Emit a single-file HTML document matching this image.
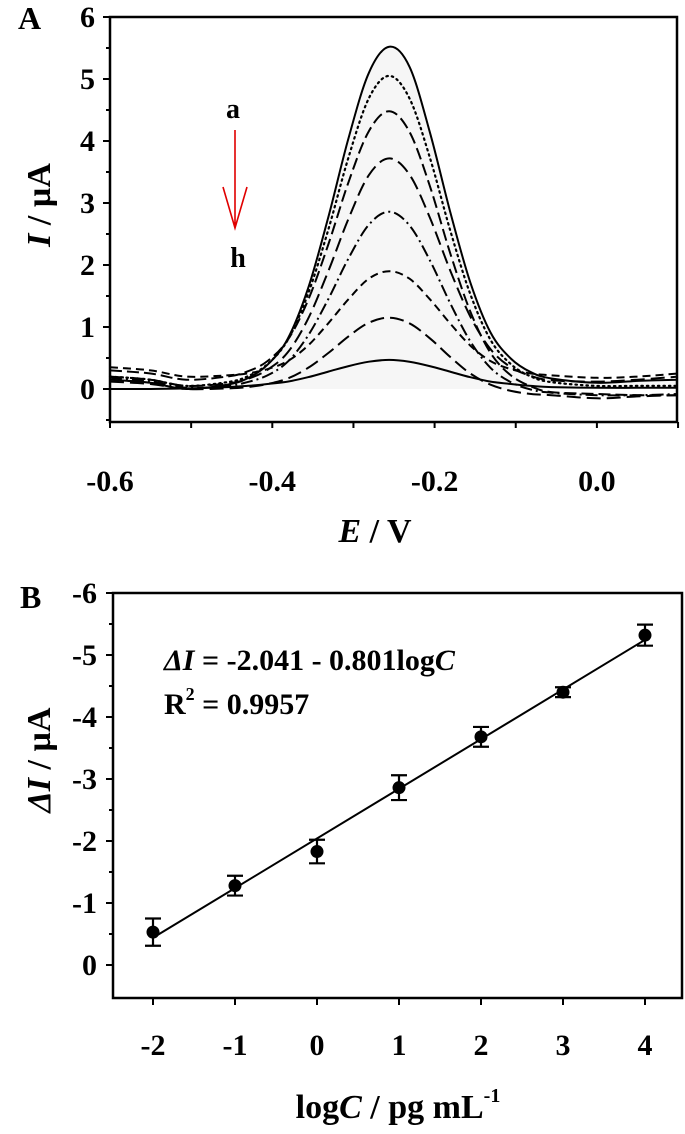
<!DOCTYPE html>
<html><head><meta charset="utf-8"><style>
html,body{margin:0;padding:0;background:#fff;}
svg{display:block;font-family:"Liberation Serif","DejaVu Serif",serif;font-weight:bold;}
</style></head><body>
<svg id="fig" width="685" height="1134" viewBox="0 0 685 1134" xmlns="http://www.w3.org/2000/svg">
<g id="pa"></g>
<g id="pb"></g>
</svg>
<script>
// ---------- Panel A data ----------
const aE = [-0.6,-0.55,-0.506,-0.456,-0.431,-0.406,-0.381,-0.356,-0.331,-0.306,-0.281,-0.256,-0.231,-0.206,-0.181,-0.156,-0.131,-0.106,-0.081,-0.056,0,0.05,0.1];
const curveA = [0.15,0.1,0.0, 0.07,0.17,0.39,0.81,1.62,2.77,4.05,5.10, 5.52, 5.20,4.15,2.87,1.72,0.91,0.49,0.27,0.17, 0.1,0.13,0.15];
const curveB = [0.2,0.15,0.05, 0.11,0.2,0.4,0.79,1.53,2.57,3.74,4.69, 5.05, 4.69,3.74,2.57,1.53,0.79,0.4,0.2,0.11, 0.05,0.05,0.05];
const curveC = [0.3,0.25,0.15, 0.2,0.28,0.45,0.79,1.43,2.33,3.34,4.16, 4.48, 4.15,3.28,2.2,1.25,0.58,0.22,0.04,-0.05, -0.08,-0.1,-0.1];
const curveD = [0.2,0.15,0.05, 0.09,0.16,0.31,0.59,1.13,1.90,2.75,3.45, 3.72, 3.46,2.77,1.92,1.17,0.64,0.35,0.21,0.14, 0.12,0.15,0.2];
const curveE = [0.18,0.12,0.02, 0.05,0.11,0.22,0.44,0.86,1.45,2.11,2.65, 2.86, 2.64,2.08,1.39,0.77,0.34,0.11,-0.01,-0.06, -0.1,-0.1,-0.08];
const curveF = [0.35,0.3,0.2, 0.22,0.25,0.32,0.45,0.70,1.06,1.45,1.78, 1.9, 1.78,1.45,1.06,0.70,0.45,0.32,0.25,0.22, 0.18,0.2,0.25];
const curveG = [0.12,0.08,0.0, 0.01,0.03,0.08,0.17,0.34,0.58,0.85,1.07, 1.15, 1.06,0.82,0.52,0.25,0.07,-0.03,-0.08,-0.1, -0.15,-0.12,-0.1];
const curveH = [0.0,0.0,0.01, 0.03,0.05,0.08,0.12,0.19,0.28,0.37,0.44, 0.47, 0.44,0.37,0.28,0.19,0.12,0.08,0.05,0.03, 0.02,0.02,0.02];
const aXTicks = [-0.6,-0.4,-0.2,0.0];
const aXTickLabels = ["-0.6","-0.4","-0.2","0.0"];
const aYTicks = [0,1,2,3,4,5,6];
// ---------- Panel B data ----------
const bX = [-2,-1,0,1,2,3,4];
const bY = [-0.53,-1.28,-1.83,-2.86,-3.68,-4.40,-5.32];
const bErr = [0.22,0.16,0.19,0.2,0.16,0.08,0.17];
const bIntercept = -2.041, bSlope = -0.801;
const bYTicks = [0,-1,-2,-3,-4,-5,-6];
const bXTicks = [-2,-1,0,1,2,3,4];

const NS="http://www.w3.org/2000/svg";
function mk(parent,tag,attrs,text){const e=document.createElementNS(NS,tag);for(const k in attrs)e.setAttribute(k,attrs[k]);if(text!==undefined)e.textContent=text;parent.appendChild(e);return e;}
function smooth(pts){let d="M"+pts[0][0].toFixed(1)+","+pts[0][1].toFixed(1);for(let i=0;i<pts.length-1;i++){const p0=pts[Math.max(0,i-1)],p1=pts[i],p2=pts[i+1],p3=pts[Math.min(pts.length-1,i+2)];const c1x=p1[0]+(p2[0]-p0[0])/6,c1y=p1[1]+(p2[1]-p0[1])/6,c2x=p2[0]-(p3[0]-p1[0])/6,c2y=p2[1]-(p3[1]-p1[1])/6;d+="C"+c1x.toFixed(1)+","+c1y.toFixed(1)+" "+c2x.toFixed(1)+","+c2y.toFixed(1)+" "+p2[0].toFixed(1)+","+p2[1].toFixed(1);}return d;}

// ---------- Panel A ----------
const pa=document.getElementById('pa');
const ax=v=>110+(v+0.6)*811.5;
const ay=v=>389-v*62;
const curves=[curveA,curveB,curveC,curveD,curveE,curveF,curveG,curveH];
const dashes=["","1.5,4","12,5","14,6","12,4,2,4","8,5","14,6",""];
const names=["curve-a","curve-b","curve-c","curve-d","curve-e","curve-f","curve-g","curve-h"];
// faint fill
const fillPts=aE.map((e,i)=>[ax(e),ay(curveA[i])]);
const fp=mk(pa,'path',{d:smooth(fillPts)+"L"+ax(0.1)+","+ay(0)+"L"+ax(-0.6)+","+ay(0)+"Z",fill:"#f6f6f6",stroke:"none"});


curves.forEach((c,k)=>{
  const pts=aE.map((e,i)=>[ax(e),ay(c[i])]);
  const p=mk(pa,'path',{d:smooth(pts),fill:"none",stroke:"#000","stroke-width":(k==1?2.2:2),"stroke-dasharray":dashes[k],"stroke-linecap":(k==1?"round":"butt")});
  
  
});
const fa=mk(pa,'rect',{x:110,y:17,width:567,height:405,fill:"none",stroke:"#000","stroke-width":2.5});


aYTicks.forEach(v=>{
  const t=mk(pa,'line',{x1:103,x2:110,y1:ay(v),y2:ay(v),stroke:"#000","stroke-width":2});
  
  
  const l=mk(pa,'text',{x:95,y:ay(v)+10,"font-size":30,"text-anchor":"end"},String(v));
  
  
});
[-0.5,0.5,1.5,2.5,3.5,4.5,5.5].forEach(v=>{
  const t=mk(pa,'line',{x1:106,x2:110,y1:ay(v),y2:ay(v),stroke:"#000","stroke-width":2});
  
  
});
[-0.6,-0.5,-0.4,-0.3,-0.2,-0.1,0.0,0.1].forEach(v=>{
  const t=mk(pa,'line',{x1:ax(v),x2:ax(v),y1:422,y2:428,stroke:"#000","stroke-width":2});
  
  
});
aXTicks.forEach((v,i)=>{
  const l=mk(pa,'text',{x:ax(v),y:491,"font-size":30,"text-anchor":"middle"},aXTickLabels[i]);
  
  
});
const xt=mk(pa,'text',{x:375,y:542,"font-size":34,"text-anchor":"middle"});


xt.innerHTML='<tspan font-style="italic">E</tspan> / V';
const yt=mk(pa,'text',{x:0,y:0,"font-size":34,"text-anchor":"middle",transform:"translate(50,205) rotate(-90)"});


yt.innerHTML='<tspan font-style="italic">I</tspan> / µA';
const lA=mk(pa,'text',{x:18,y:29,"font-size":32},"A");


const la=mk(pa,'text',{x:233,y:118,"font-size":28,"text-anchor":"middle"},"a");


const lh=mk(pa,'text',{x:238,y:267,"font-size":28,"text-anchor":"middle"},"h");


const arr=mk(pa,'path',{d:"M235,130 L235,228 M223,187 L235,228 L247,187",fill:"none",stroke:"#e00000","stroke-width":1.6});



// ---------- Panel B ----------
const pb=document.getElementById('pb');
const bx=v=>153+(v+2)*82;
const by=v=>965+v*62;
const fb=mk(pb,'rect',{x:113,y:593,width:569,height:405,fill:"none",stroke:"#000","stroke-width":2.5});


bYTicks.forEach(v=>{
  const t=mk(pb,'line',{x1:106,x2:113,y1:by(v),y2:by(v),stroke:"#000","stroke-width":2});
  
  
  const l=mk(pb,'text',{x:97,y:by(v)+10,"font-size":30,"text-anchor":"end"},String(v));
  
  
});
[-0.5,-1.5,-2.5,-3.5,-4.5,-5.5].forEach(v=>{
  const t=mk(pb,'line',{x1:109,x2:113,y1:by(v),y2:by(v),stroke:"#000","stroke-width":2});
  
  
});
bXTicks.forEach(v=>{
  const t=mk(pb,'line',{x1:bx(v),x2:bx(v),y1:998,y2:1005,stroke:"#000","stroke-width":2});
  
  
  const l=mk(pb,'text',{x:bx(v),y:1055,"font-size":30,"text-anchor":"middle"},String(v));
  
  
});
const fit=mk(pb,'line',{x1:bx(bX[0]),y1:by(bIntercept+bSlope*bX[0]),x2:bx(bX[bX.length-1]),y2:by(bIntercept+bSlope*bX[bX.length-1]),stroke:"#000","stroke-width":2});


bX.forEach((x,i)=>{
  const cx=bx(x),y1=by(bY[i]-bErr[i]),y2=by(bY[i]+bErr[i]);
  const e=mk(pb,'path',{d:`M${cx},${y1}V${y2}M${cx-8},${y1}H${cx+8}M${cx-8},${y2}H${cx+8}`,stroke:"#000","stroke-width":2.2,fill:"none"});
  
  
  const c=mk(pb,'circle',{cx:cx,cy:by(bY[i]),r:6.5,fill:"#000"});
  
  
});
const eq=mk(pb,'text',{x:164,y:670,"font-size":30});


eq.innerHTML='<tspan font-style="italic">ΔI</tspan> = -2.041 - 0.801log<tspan font-style="italic">C</tspan>';
const r2=mk(pb,'text',{x:164,y:714,"font-size":30});


r2.innerHTML='R<tspan font-size="18" dy="-14">2</tspan><tspan dy="14"> = 0.9957</tspan>';
const bxt=mk(pb,'text',{x:398,y:1118,"font-size":34,"text-anchor":"middle"});


bxt.innerHTML='log<tspan font-style="italic">C</tspan> / pg mL<tspan font-size="20" dy="-16">-1</tspan>';
const byt=mk(pb,'text',{x:0,y:0,"font-size":34,"text-anchor":"middle",transform:"translate(50,760) rotate(-90)"});


byt.innerHTML='<tspan font-style="italic">ΔI</tspan> / µA';
const lB=mk(pb,'text',{x:20,y:608,"font-size":32},"B");


</script>
</body></html>
